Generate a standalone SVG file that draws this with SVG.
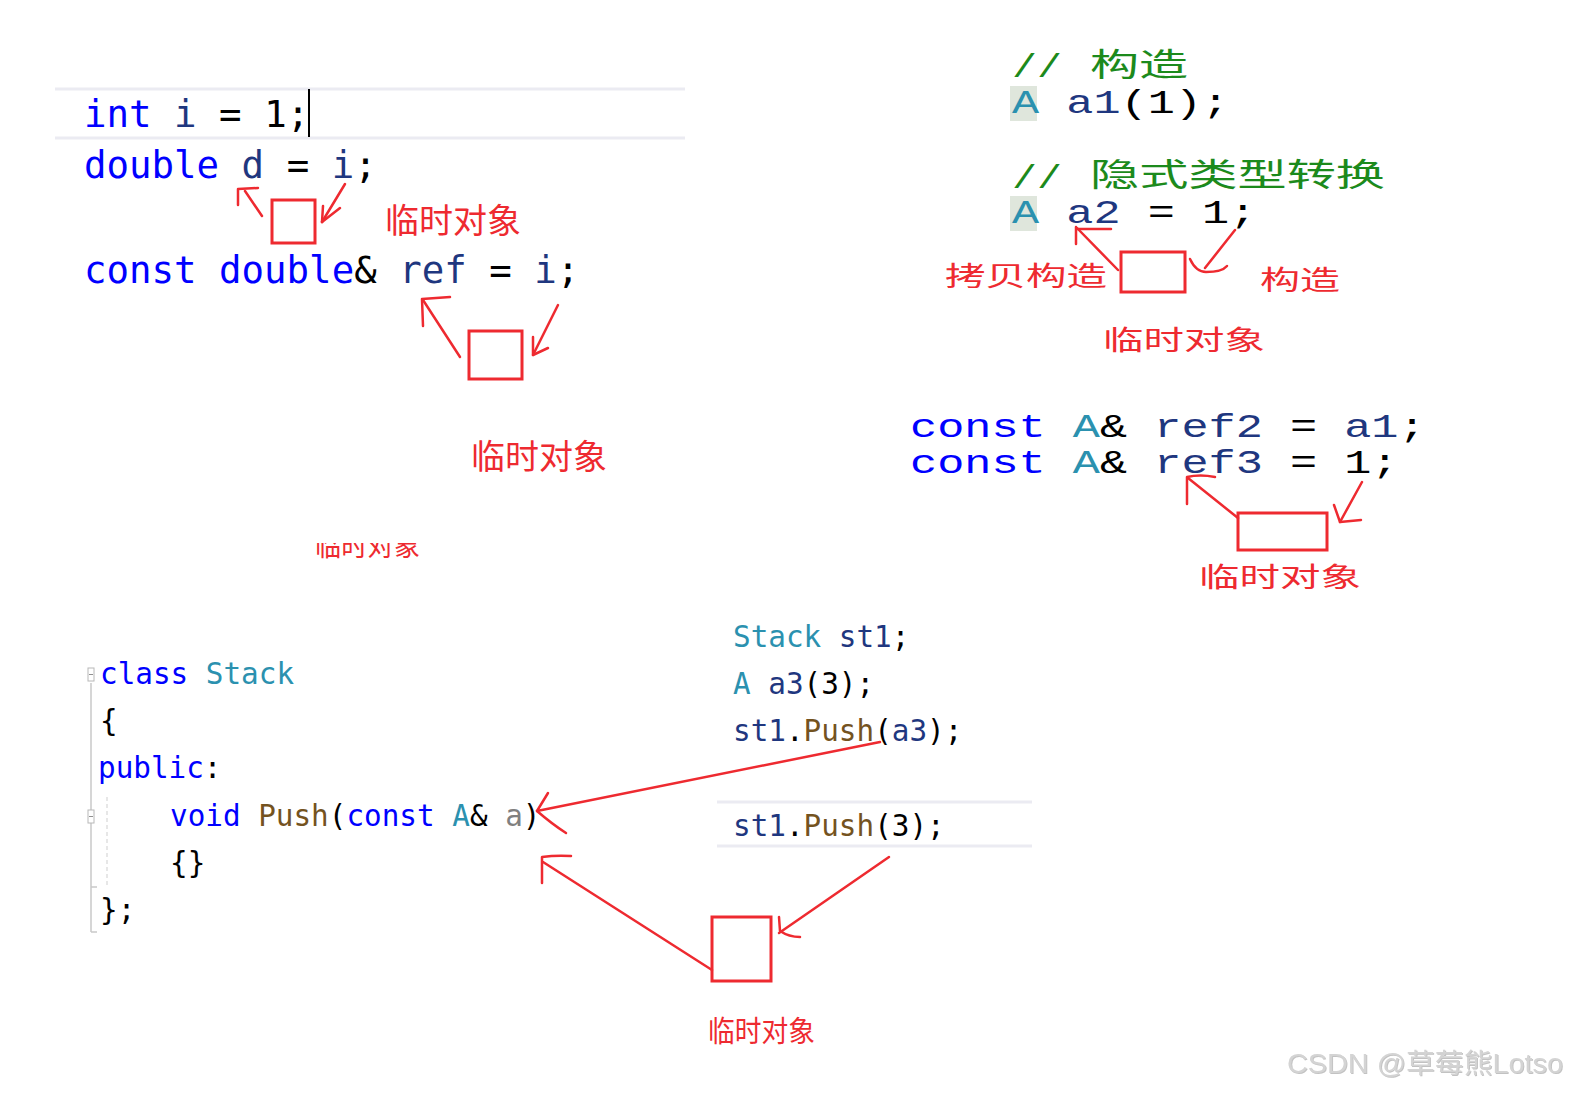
<svg xmlns="http://www.w3.org/2000/svg" width="1575" height="1096" viewBox="0 0 1575 1096">
<style>
.code1{font-family:"DejaVu Sans Mono","Liberation Mono",monospace;font-size:37.4px}
.code2{font-family:"Liberation Mono","DejaVu Sans Mono",monospace;font-size:34px}
.code3{font-family:"DejaVu Sans Mono","Liberation Mono",monospace;font-size:29.3px}
.cjk{font-family:"Noto Sans CJK SC","Noto Sans",sans-serif}
.red{fill:#ee2a30}
.green{fill:#1c8a1c}
.kw{fill:#0000ff}
.ty{fill:#2b91af}
.var{fill:#1f377f}
.fn{fill:#74531f}
.par{fill:#808080}
.blk{fill:#000000}
.ann{fill:none;stroke:#ee2a30;stroke-width:2.5;stroke-linecap:round;stroke-linejoin:round}
.box{fill:#ffffff;stroke:#ee2a30;stroke-width:3}
.sep{stroke:#ebebf2;stroke-width:3}
.hl{fill:#dfe6dc}
</style>
<defs>
<clipPath id="cut"><rect x="300" y="543" width="150" height="20"/></clipPath>
<filter id="sh" x="-5%" y="-20%" width="110%" height="140%"><feDropShadow dx="1" dy="1" stdDeviation="0.6" flood-color="#9a9a9a" flood-opacity="0.6"/></filter>
</defs>
<rect x="0" y="0" width="1575" height="1096" fill="#ffffff"/>

<!-- Top-left code -->
<g id="code-topleft">
<line class="sep" x1="55" y1="89" x2="685" y2="89"/>
<line class="sep" x1="55" y1="138" x2="685" y2="138"/>
<text class="code1" x="84" y="127" xml:space="preserve"><tspan class="kw">int</tspan> <tspan class="var">i</tspan> <tspan class="blk">=</tspan> <tspan class="blk">1;</tspan></text>
<line x1="309" y1="89" x2="309" y2="137" stroke="#000" stroke-width="2"/>
<text class="code1" x="84" y="178" xml:space="preserve"><tspan class="kw">double</tspan> <tspan class="var">d</tspan> <tspan class="blk">=</tspan> <tspan class="var">i</tspan><tspan class="blk">;</tspan></text>
<text class="code1" x="84" y="283" xml:space="preserve"><tspan class="kw">const</tspan> <tspan class="kw">double</tspan><tspan class="blk">&amp;</tspan> <tspan class="var">ref</tspan> <tspan class="blk">=</tspan> <tspan class="var">i</tspan><tspan class="blk">;</tspan></text>
</g>

<g id="temp1">
<rect class="box" x="272" y="200" width="43" height="43"/>
<text class="cjk red" x="385" y="233" font-size="34">临时对象</text>
</g>
<g id="temp2">
<rect class="box" x="469" y="331" width="53" height="48"/>
<text class="cjk red" x="471" y="469" font-size="34">临时对象</text>
</g>
<g id="temp-clipped" clip-path="url(#cut)">
<text class="cjk red" x="315" y="556" font-size="27" textLength="105" lengthAdjust="spacingAndGlyphs">临时对象</text>
</g>

<!-- Top-right code -->
<g id="code-topright">
<text class="code2 green" x="1012" y="77" textLength="50" lengthAdjust="spacingAndGlyphs">//</text>
<text class="cjk green" x="1090" y="76" font-size="32" textLength="98" lengthAdjust="spacingAndGlyphs">构造</text>
<rect class="hl" x="1010" y="86" width="27" height="35"/>
<text class="code2" transform="translate(1012,113) scale(1.33,1)" xml:space="preserve"><tspan class="ty">A</tspan> <tspan class="var">a1</tspan><tspan class="blk">(1);</tspan></text>
<text class="code2 green" x="1012" y="188" textLength="50" lengthAdjust="spacingAndGlyphs">//</text>
<text class="cjk green" x="1090" y="186" font-size="32" textLength="295" lengthAdjust="spacingAndGlyphs">隐式类型转换</text>
<rect class="hl" x="1010" y="196" width="27" height="35"/>
<text class="code2" transform="translate(1012,223) scale(1.33,1)" xml:space="preserve"><tspan class="ty">A</tspan> <tspan class="var">a2</tspan> <tspan class="blk">=</tspan> <tspan class="blk">1;</tspan></text>
</g>
<g id="temp3">
<rect class="box" x="1121" y="252" width="64" height="40"/>
<text class="cjk red" x="945" y="286" font-size="27" textLength="162" lengthAdjust="spacingAndGlyphs">拷贝构造</text>
<text class="cjk red" x="1260" y="290" font-size="27" textLength="80" lengthAdjust="spacingAndGlyphs">构造</text>
<text class="cjk red" x="1103" y="350" font-size="27" textLength="162" lengthAdjust="spacingAndGlyphs">临时对象</text>
</g>

<g id="code-midright">
<text class="code2" transform="translate(910,437) scale(1.33,1)" xml:space="preserve"><tspan class="kw">const</tspan> <tspan class="ty">A</tspan><tspan class="blk">&amp;</tspan> <tspan class="var">ref2</tspan> <tspan class="blk">=</tspan> <tspan class="var">a1</tspan><tspan class="blk">;</tspan></text>
<text class="code2" transform="translate(910,473) scale(1.33,1)" xml:space="preserve"><tspan class="kw">const</tspan> <tspan class="ty">A</tspan><tspan class="blk">&amp;</tspan> <tspan class="var">ref3</tspan> <tspan class="blk">=</tspan> <tspan class="blk">1;</tspan></text>
</g>
<g id="temp4">
<rect class="box" x="1238" y="513" width="89" height="37"/>
<text class="cjk red" x="1199" y="587" font-size="27" textLength="162" lengthAdjust="spacingAndGlyphs">临时对象</text>
</g>

<!-- Bottom-left code -->
<g id="code-class">
<line x1="91" y1="683" x2="91" y2="932" stroke="#c8c8c8" stroke-width="1.5"/>
<rect x="88" y="668" width="6" height="13" fill="#ffffff" stroke="#b8b8b8" stroke-width="1"/>
<line x1="89" y1="674.5" x2="93" y2="674.5" stroke="#909090" stroke-width="1"/>
<rect x="88" y="810" width="6" height="13" fill="#ffffff" stroke="#b8b8b8" stroke-width="1"/>
<line x1="89" y1="816.5" x2="93" y2="816.5" stroke="#909090" stroke-width="1"/>
<line x1="91" y1="887" x2="97" y2="887" stroke="#c8c8c8" stroke-width="1.5"/>
<line x1="91" y1="932" x2="97" y2="932" stroke="#c8c8c8" stroke-width="1.5"/>
<line x1="107" y1="797" x2="107" y2="887" stroke="#d8d8d8" stroke-width="1.2" stroke-dasharray="4,3"/>
<text class="code3" x="100" y="684" xml:space="preserve"><tspan class="kw">class</tspan> <tspan class="ty">Stack</tspan></text>
<text class="code3 blk" x="100" y="731">{</text>
<text class="code3" x="98" y="778"><tspan class="kw">public</tspan><tspan class="blk">:</tspan></text>
<text class="code3" x="170" y="826" xml:space="preserve"><tspan class="kw">void</tspan> <tspan class="fn">Push</tspan><tspan class="blk">(</tspan><tspan class="kw">const</tspan> <tspan class="ty">A</tspan><tspan class="blk">&amp;</tspan> <tspan class="par">a</tspan><tspan class="blk">)</tspan></text>
<text class="code3 blk" x="170" y="873">{}</text>
<text class="code3 blk" x="100" y="920">};</text>
</g>

<g id="code-calls">
<text class="code3" x="733" y="647" xml:space="preserve"><tspan class="ty">Stack</tspan> <tspan class="var">st1</tspan><tspan class="blk">;</tspan></text>
<text class="code3" x="733" y="694" xml:space="preserve"><tspan class="ty">A</tspan> <tspan class="var">a3</tspan><tspan class="blk">(3);</tspan></text>
<text class="code3" x="733" y="741"><tspan class="var">st1</tspan><tspan class="blk">.</tspan><tspan class="fn">Push</tspan><tspan class="blk">(</tspan><tspan class="var">a3</tspan><tspan class="blk">);</tspan></text>
<line class="sep" x1="717" y1="802" x2="1032" y2="802"/>
<line class="sep" x1="717" y1="846" x2="1032" y2="846"/>
<text class="code3" x="733" y="836"><tspan class="var">st1</tspan><tspan class="blk">.</tspan><tspan class="fn">Push</tspan><tspan class="blk">(3);</tspan></text>
</g>
<g id="temp5">
<rect class="box" x="712" y="917" width="59" height="64"/>
<text class="cjk red" x="708" y="1042" font-size="29" textLength="107" lengthAdjust="spacingAndGlyphs">临时对象</text>
</g>

<!-- Connectors -->
<g id="connectors">
<path class="ann" d="M262,216 L245,191"/>
<path class="ann" d="M238,205 L238,189 L258,188"/>
<path class="ann" d="M345,184 L322,222"/>
<path class="ann" d="M322,222 L340,208"/>
<path class="ann" d="M322,222 L323,206"/>
<path class="ann" d="M460,357 L423,300"/>
<path class="ann" d="M423,326 L422,299 L450,297"/>
<path class="ann" d="M558,305 L533,355"/>
<path class="ann" d="M533,337 L533,355 L548,348"/>
<path class="ann" d="M1118,270 L1077,228"/>
<path class="ann" d="M1076,244 L1076,227 M1077,229 L1111,229"/>
<path class="ann" d="M1235,230 L1205,268"/>
<path class="ann" d="M1190,259 Q1196,272 1206,272 Q1222,272 1227,266"/>
<path class="ann" d="M1238,518 L1188,478"/>
<path class="ann" d="M1187,504 L1187,477 Q1200,474 1215,477"/>
<path class="ann" d="M1362,482 L1340,522"/>
<path class="ann" d="M1334,505 L1340,522 L1361,520"/>
<path class="ann" d="M880,742 L537,811"/>
<path class="ann" d="M548,793 L537,811 Q552,824 566,833"/>
<path class="ann" d="M712,970 L543,862"/>
<path class="ann" d="M542,883 L542,857 Q556,855 571,856"/>
<path class="ann" d="M889,857 L779,933"/>
<path class="ann" d="M779,917 L780,931 Q789,937 800,937"/>
</g>

<text x="1287" y="1073" font-family="Liberation Sans, Noto Sans CJK SC, sans-serif" font-size="27" fill="#d4d4d4" filter="url(#sh)" textLength="276" lengthAdjust="spacingAndGlyphs">CSDN @草莓熊Lotso</text>
</svg>
